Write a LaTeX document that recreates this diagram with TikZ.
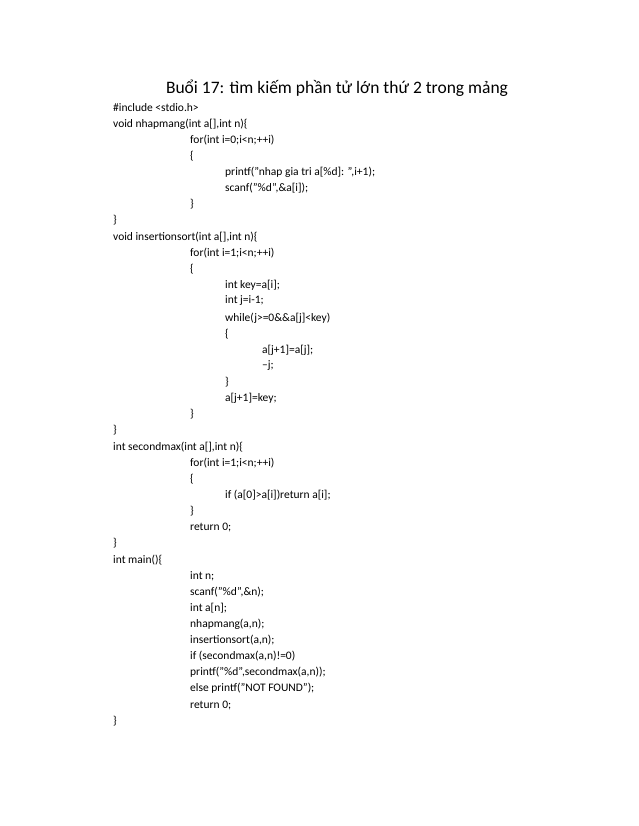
\documentclass[tikz,border=0pt]{standalone}
\usepackage{fontspec}
\setmainfont{Carlito}
\begin{document}
\begin{tikzpicture}[x=1pt,y=-1pt,every node/.style={inner sep=0pt,anchor=west,font=\fontsize{11.5}{13}\selectfont}]
\useasboundingbox[fill=white] (0,0) rectangle (638,826);
\node[anchor=center,font=\fontsize{17.5}{20}\selectfont] (title) at (337,88) {Buổi 17: tìm kiếm phần tử lớn thứ 2 trong mảng};
\def\A{113}\def\B{190}\def\C{225}\def\D{262}
\node (l1) at (\A,108) {\#include <stdio.h>};
\node (l2) at (\A,124) {void nhapmang(int a[],int n)\{};
\node (l3) at (\B,140) {for(int i=0;i<n;++i)};
\node (l4) at (\B,156) {\{};
\node (l5) at (\C,172) {printf("nhap gia tri a[\%d]: ",i+1);};
\node (l6) at (\C,188) {scanf("\%d",\&a[i]);};
\node (l7) at (\B,204) {\}};
\node (l8) at (\A,220) {\}};
\node (l9) at (\A,237) {void insertionsort(int a[],int n)\{};
\node (l10) at (\B,253) {for(int i=1;i<n;++i)};
\node (l11) at (\B,269) {\{};
\node (l12) at (\C,285) {int key=a[i];};
\node (l13) at (\C,301) {int j=i-1;};
\node (l14) at (\C,318) {while(j>=0\&\&a[j]<key)};
\node (l15) at (\C,334) {\{};
\node (l16) at (\D,350) {a[j+1]=a[j];};
\node (l17) at (\D,366) {--j;};
\node (l18) at (\C,382) {\}};
\node (l19) at (\C,398) {a[j+1]=key;};
\node (l20) at (\B,414) {\}};
\node (l21) at (\A,430) {\}};
\node (l22) at (\A,447) {int secondmax(int a[],int n)\{};
\node (l23) at (\B,463) {for(int i=1;i<n;++i)};
\node (l24) at (\B,479) {\{};
\node (l25) at (\C,495) {if (a[0]>a[i])return a[i];};
\node (l26) at (\B,511) {\}};
\node (l27) at (\B,527) {return 0;};
\node (l28) at (\A,543) {\}};
\node (l29) at (\A,560) {int main()\{};
\node (l30) at (\B,576) {int n;};
\node (l31) at (\B,592) {scanf("\%d",\&n);};
\node (l32) at (\B,608) {int a[n];};
\node (l33) at (\B,624) {nhapmang(a,n);};
\node (l34) at (\B,640) {insertionsort(a,n);};
\node (l35) at (\B,656) {if (secondmax(a,n)!=0)};
\node (l36) at (\B,672) {printf("\%d",secondmax(a,n));};
\node (l37) at (\B,688) {else printf("NOT FOUND");};
\node (l38) at (\B,705) {return 0;};
\node (l39) at (\A,721) {\}};
\end{tikzpicture}
\end{document}
